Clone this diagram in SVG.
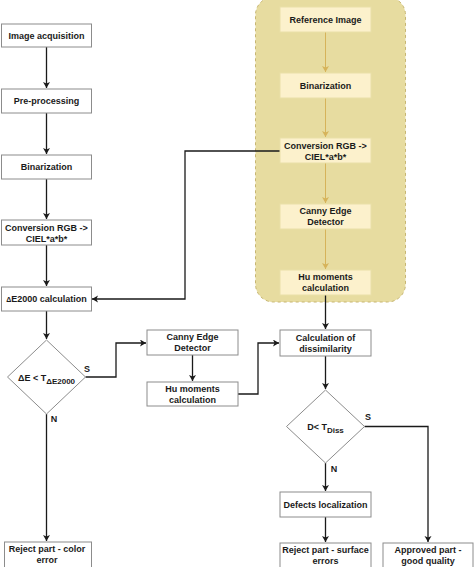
<svg xmlns="http://www.w3.org/2000/svg" width="474" height="567" viewBox="0 0 474 567">
<style>
.box{fill:#ffffff;stroke:#8c8c8c;stroke-width:1}
.ibox{fill:#fcf1cc;stroke:#eadfa8;stroke-width:1}
.t{font-family:"Liberation Sans",Arial,sans-serif;font-size:9px;font-weight:bold;fill:#1a1a1a;text-anchor:middle}
.c{fill:none;stroke:#1a1a1a;stroke-width:1.3}
.g{fill:none;stroke:#d6b35a;stroke-width:1}
</style>
<defs>
<marker id="ah" markerUnits="userSpaceOnUse" markerWidth="8" markerHeight="8" refX="6" refY="3.5" orient="auto">
<path d="M0,0 L6,3.5 L0,7 L1.5,3.5 Z" fill="#1a1a1a"/>
</marker>
<marker id="ahg" markerUnits="userSpaceOnUse" markerWidth="8" markerHeight="8" refX="6" refY="3.5" orient="auto">
<path d="M0,0 L6,3.5 L0,7 L1.5,3.5 Z" fill="#d6b35a"/>
</marker>
</defs>

<g id="container">
<rect x="255.5" y="-3" width="150" height="305" rx="18" fill="#e7dca0" stroke="#c7b672" stroke-width="1" stroke-dasharray="3,3"/>
</g>

<g id="connectors">
<path class="c" d="M46.5,47 V88" marker-end="url(#ah)"/>
<path class="c" d="M46.5,113 V154" marker-end="url(#ah)"/>
<path class="c" d="M46.5,179 V219" marker-end="url(#ah)"/>
<path class="c" d="M46.5,245 V286" marker-end="url(#ah)"/>
<path class="c" d="M46.5,311 V339" marker-end="url(#ah)"/>
<path class="c" d="M46.5,414 V541" marker-end="url(#ah)"/>
<path class="c" d="M85.5,377 H116 V343 H146" marker-end="url(#ah)"/>
<path class="c" d="M192.5,355 V381" marker-end="url(#ah)"/>
<path class="c" d="M238,394 H258 V343 H279" marker-end="url(#ah)"/>
<path class="c" d="M280,151 H185 V299 H92" marker-end="url(#ah)"/>
<path class="g" d="M325.5,32 V72" marker-end="url(#ahg)"/>
<path class="g" d="M325.5,98 V137" marker-end="url(#ahg)"/>
<path class="g" d="M325.5,163 V203" marker-end="url(#ahg)"/>
<path class="g" d="M325.5,229 V269" marker-end="url(#ahg)"/>
<path class="c" d="M325.5,295 V329" marker-end="url(#ah)"/>
<path class="c" d="M325.5,356 V389" marker-end="url(#ah)"/>
<path class="c" d="M325.5,463 V491" marker-end="url(#ah)"/>
<path class="c" d="M325.5,517 V542" marker-end="url(#ah)"/>
<path class="c" d="M364.5,426.5 H428 V542" marker-end="url(#ah)"/>
<text class="t" x="87" y="372">S</text>
<text class="t" x="54" y="422">N</text>
<text class="t" x="368" y="420">S</text>
<text class="t" x="334" y="472">N</text>
</g>

<g id="image-acquisition"><rect class="box" x="1.5" y="24" width="90" height="23"/><text class="t" x="46.5" y="38.5">Image acquisition</text></g>
<g id="pre-processing"><rect class="box" x="1.5" y="89" width="90" height="24"/><text class="t" x="46.5" y="104">Pre-processing</text></g>
<g id="binarization"><rect class="box" x="1.5" y="155" width="90" height="24"/><text class="t" x="46.5" y="170">Binarization</text></g>
<g id="conversion"><rect class="box" x="1.5" y="220" width="90" height="25"/><text class="t" x="46.5" y="231">Conversion RGB -&gt;</text><text class="t" x="46.5" y="242">CIEL*a*b*</text></g>
<g id="delta-e"><rect class="box" x="1.5" y="287" width="90" height="24"/><text class="t" x="46.5" y="302"><tspan font-size="7">Δ</tspan>E2000 calculation</text></g>
<g id="decision-color"><path class="box" d="M46.5,340 L85.5,377 L46.5,414 L7.5,377 Z"/><text class="t" x="46.5" y="381">ΔE &lt; T<tspan font-size="8" dy="2.5">ΔE2000</tspan></text></g>
<g id="reject-color"><rect class="box" x="4.5" y="542" width="87" height="30"/><text class="t" x="47" y="552">Reject part - color</text><text class="t" x="47" y="563">error</text></g>

<g id="canny-mid"><rect class="box" x="147" y="330" width="91" height="25"/><text class="t" x="192.5" y="340">Canny Edge</text><text class="t" x="192.5" y="351">Detector</text></g>
<g id="hu-mid"><rect class="box" x="147" y="382" width="91" height="24"/><text class="t" x="192.5" y="391.5">Hu moments</text><text class="t" x="192.5" y="402.5">calculation</text></g>

<g id="reference-image"><rect class="ibox" x="280" y="7" width="91" height="25"/><text class="t" x="325.5" y="22.5">Reference Image</text></g>
<g id="ref-binarization"><rect class="ibox" x="280" y="73" width="91" height="25"/><text class="t" x="325.5" y="88.5">Binarization</text></g>
<g id="ref-conversion"><rect class="ibox" x="280" y="138" width="91" height="25"/><text class="t" x="325.5" y="148.5">Conversion RGB -&gt;</text><text class="t" x="325.5" y="159.5">CIEL*a*b*</text></g>
<g id="ref-canny"><rect class="ibox" x="280" y="204" width="91" height="25"/><text class="t" x="325.5" y="214">Canny Edge</text><text class="t" x="325.5" y="225">Detector</text></g>
<g id="ref-hu"><rect class="ibox" x="280" y="270" width="91" height="25"/><text class="t" x="325.5" y="280">Hu moments</text><text class="t" x="325.5" y="291">calculation</text></g>

<g id="dissimilarity"><rect class="box" x="280" y="330" width="91" height="26"/><text class="t" x="325.5" y="340.5">Calculation of</text><text class="t" x="325.5" y="351.5">dissimilarity</text></g>
<g id="decision-diss"><path class="box" d="M325.5,390 L364.5,426.5 L325.5,463 L286.5,426.5 Z"/><text class="t" x="325.5" y="430">D&lt; T<tspan font-size="8" dy="2.5">Diss</tspan></text></g>
<g id="defects"><rect class="box" x="280" y="492" width="91" height="25"/><text class="t" x="325.5" y="507.5">Defects localization</text></g>
<g id="reject-surface"><rect class="box" x="280" y="543" width="91" height="30"/><text class="t" x="325.5" y="553">Reject part - surface</text><text class="t" x="325.5" y="564">errors</text></g>
<g id="approved"><rect class="box" x="383" y="543" width="90" height="30"/><text class="t" x="428" y="553">Approved part -</text><text class="t" x="428" y="564">good quality</text></g>
</svg>
